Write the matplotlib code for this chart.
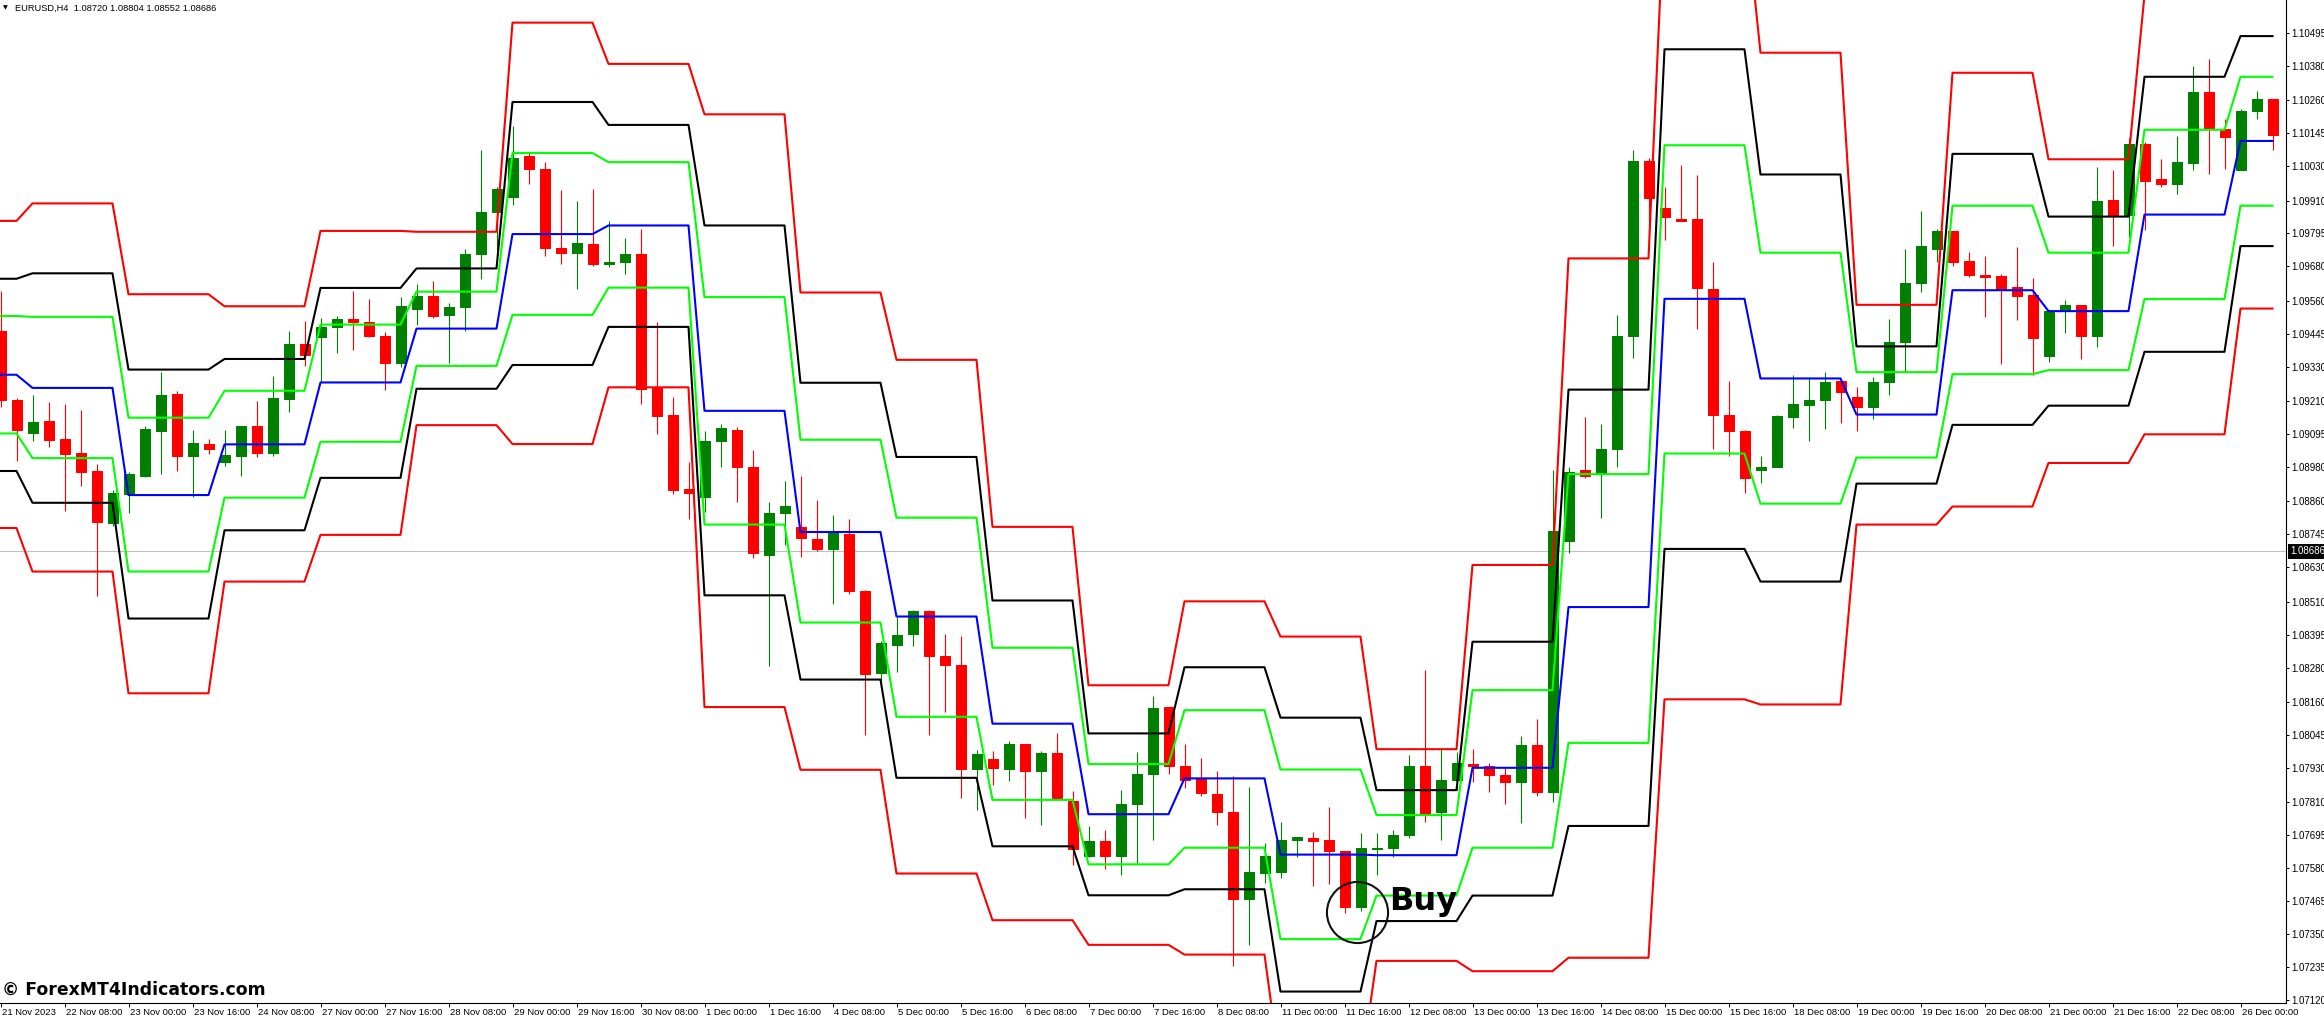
import numpy as np
import matplotlib
matplotlib.use("Agg")
import matplotlib.pyplot as plt
from matplotlib import transforms

# EURUSD H4 candles, first bar 21 Nov 16:00, last bar 26 Dec 08:00
opens = [1.09455, 1.09214, 1.09100, 1.09141, 1.09078, 1.09029, 1.08966, 1.08785, 1.08885, 1.08949,
         1.09107, 1.09235, 1.09020, 1.09060, 1.08999, 1.09020, 1.09123, 1.09030, 1.09219, 1.09409,
         1.09432, 1.09468, 1.09497, 1.09485, 1.09437, 1.09343, 1.09533, 1.09577, 1.09509, 1.09537,
         1.09724, 1.09870, 1.09924, 1.10065, 1.10020, 1.09745, 1.09726, 1.09758, 1.09688, 1.09694,
         1.09722, 1.09256, 1.09162, 1.08902, 1.08874, 1.09071, 1.09109, 1.08981, 1.08673, 1.08818,
         1.08769, 1.08729, 1.08693, 1.08747, 1.08548, 1.08261, 1.08357, 1.08397, 1.08478, 1.08321,
         1.08288, 1.07925, 1.07959, 1.07925, 1.08013, 1.07919, 1.07983, 1.07815, 1.07623, 1.07674,
         1.07623, 1.07804, 1.07909, 1.08141, 1.07937, 1.07890, 1.07837, 1.07774, 1.07473, 1.07562,
         1.07568, 1.07678, 1.07685, 1.07678, 1.07640, 1.07444, 1.07647, 1.07651, 1.07696, 1.07937,
         1.07774, 1.07886, 1.07942, 1.07937, 1.07904, 1.07882, 1.08009, 1.07846, 1.08723, 1.08969,
         1.08958, 1.09043, 1.09438, 1.10047, 1.09884, 1.09846, 1.09846, 1.09601, 1.09163, 1.09107,
         1.08970, 1.08979, 1.09153, 1.09198, 1.09213, 1.09281, 1.09223, 1.09188, 1.09278, 1.09415,
         1.09621, 1.09742, 1.09803, 1.09698, 1.09649, 1.09647, 1.09608, 1.09582, 1.09368, 1.09524,
         1.09547, 1.09438, 1.09912, 1.09859, 1.10107, 1.09984, 1.09966, 1.10042, 1.10288, 1.10159,
         1.10015, 1.10221, 1.10264]
highs = [1.09593, 1.09221, 1.09231, 1.09208, 1.09200, 1.09179, 1.08991, 1.08900, 1.08964, 1.09123,
         1.09310, 1.09246, 1.09109, 1.09077, 1.09109, 1.09123, 1.09212, 1.09297, 1.09455, 1.09489,
         1.09501, 1.09508, 1.09593, 1.09565, 1.09451, 1.09572, 1.09620, 1.09629, 1.09553, 1.09740,
         1.10086, 1.09956, 1.10169, 1.10081, 1.10046, 1.09948, 1.09910, 1.09949, 1.09839, 1.09779,
         1.09809, 1.09487, 1.09226, 1.08998, 1.09105, 1.09131, 1.09119, 1.09039, 1.08859, 1.08930,
         1.08950, 1.08864, 1.08814, 1.08797, 1.08552, 1.08371, 1.08456, 1.08482, 1.08482, 1.08397,
         1.08391, 1.07993, 1.07989, 1.08024, 1.08013, 1.07990, 1.08050, 1.07849, 1.07728, 1.07714,
         1.07853, 1.07986, 1.08181, 1.08143, 1.08013, 1.07964, 1.07919, 1.07902, 1.07863, 1.07667,
         1.07741, 1.07689, 1.07707, 1.07792, 1.07640, 1.07702, 1.07702, 1.07712, 1.07975, 1.08272,
         1.07994, 1.07986, 1.07997, 1.07946, 1.07930, 1.08042, 1.08099, 1.08969, 1.08980, 1.09154,
         1.09130, 1.09511, 1.10086, 1.10059, 1.09958, 1.10034, 1.09999, 1.09695, 1.09281, 1.09109,
         1.09018, 1.09162, 1.09301, 1.09294, 1.09312, 1.09281, 1.09259, 1.09294, 1.09496, 1.09741,
         1.09873, 1.09811, 1.09803, 1.09730, 1.09717, 1.09652, 1.09748, 1.09641, 1.09527, 1.09562,
         1.09547, 1.10026, 1.10015, 1.10127, 1.10114, 1.10054, 1.10135, 1.10380, 1.10403, 1.10193,
         1.10231, 1.10291, 1.10264]
lows = [1.09191, 1.09001, 1.09069, 1.09051, 1.08828, 1.08915, 1.08528, 1.08774, 1.08819, 1.08945,
        1.08955, 1.08967, 1.08874, 1.09026, 1.08985, 1.08950, 1.09016, 1.09020, 1.09173, 1.09333,
        1.09277, 1.09379, 1.09388, 1.09433, 1.09250, 1.09328, 1.09476, 1.09499, 1.09344, 1.09456,
        1.09637, 1.09737, 1.09894, 1.09966, 1.09718, 1.09689, 1.09600, 1.09683, 1.09678, 1.09654,
        1.09201, 1.09095, 1.08884, 1.08797, 1.08824, 1.08981, 1.08858, 1.08663, 1.08285, 1.08707,
        1.08667, 1.08687, 1.08502, 1.08536, 1.08043, 1.08210, 1.08265, 1.08354, 1.08045, 1.08126,
        1.07823, 1.07784, 1.07869, 1.07885, 1.07754, 1.07732, 1.07818, 1.07591, 1.07617, 1.07577,
        1.07557, 1.07597, 1.07678, 1.07909, 1.07859, 1.07830, 1.07730, 1.07239, 1.07310, 1.07529,
        1.07547, 1.07619, 1.07518, 1.07524, 1.07422, 1.07429, 1.07556, 1.07619, 1.07685, 1.07741,
        1.07678, 1.07853, 1.07882, 1.07846, 1.07803, 1.07736, 1.07830, 1.07810, 1.08679, 1.08940,
        1.08802, 1.08980, 1.09360, 1.09789, 1.09773, 1.09840, 1.09460, 1.09043, 1.09020, 1.08888,
        1.08923, 1.08979, 1.09117, 1.09071, 1.09111, 1.09133, 1.09107, 1.09148, 1.09231, 1.09312,
        1.09590, 1.09694, 1.09680, 1.09644, 1.09504, 1.09340, 1.09493, 1.09301, 1.09348, 1.09449,
        1.09356, 1.09399, 1.09753, 1.09784, 1.09808, 1.09956, 1.09932, 1.10015, 1.10002, 1.10019,
        1.10015, 1.10193, 1.10088]
closes = [1.09214, 1.09109, 1.09136, 1.09074, 1.09026, 1.08964, 1.08789, 1.08889, 1.08956, 1.09111,
          1.09231, 1.09017, 1.09063, 1.09044, 1.09022, 1.09123, 1.09030, 1.09222, 1.09409, 1.09372,
          1.09468, 1.09497, 1.09485, 1.09437, 1.09344, 1.09542, 1.09577, 1.09508, 1.09537, 1.09724,
          1.09870, 1.09950, 1.10057, 1.10020, 1.09745, 1.09726, 1.09761, 1.09688, 1.09694, 1.09722,
          1.09252, 1.09159, 1.08900, 1.08888, 1.09071, 1.09115, 1.08981, 1.08679, 1.08820, 1.08844,
          1.08733, 1.08693, 1.08753, 1.08546, 1.08257, 1.08367, 1.08395, 1.08478, 1.08321, 1.08288,
          1.07925, 1.07979, 1.07929, 1.08013, 1.07919, 1.07983, 1.07823, 1.07648, 1.07674, 1.07623,
          1.07804, 1.07909, 1.08140, 1.07935, 1.07886, 1.07841, 1.07774, 1.07473, 1.07567, 1.07623,
          1.07678, 1.07689, 1.07674, 1.07640, 1.07444, 1.07651, 1.07651, 1.07696, 1.07937, 1.07770,
          1.07886, 1.07948, 1.07937, 1.07904, 1.07882, 1.08009, 1.07846, 1.08757, 1.08964, 1.08947,
          1.09043, 1.09438, 1.10047, 1.09918, 1.09851, 1.09840, 1.09605, 1.09163, 1.09107, 1.08940,
          1.08979, 1.09158, 1.09200, 1.09215, 1.09275, 1.09242, 1.09188, 1.09278, 1.09415, 1.09621,
          1.09750, 1.09805, 1.09696, 1.09649, 1.09644, 1.09600, 1.09577, 1.09429, 1.09524, 1.09547,
          1.09438, 1.09909, 1.09859, 1.10107, 1.09979, 1.09966, 1.10045, 1.10288, 1.10159, 1.10132,
          1.10224, 1.10264, 1.10140]

# indicator levels, one value per trading day (21 Nov .. 26 Dec)
bars_per_day = [2] + [6] * 23 + [3]
r_up = [1.09839, 1.09900, 1.09583, 1.09541, 1.09804, 1.09801, 1.10531, 1.10387, 1.10211, 1.09589,
        1.09354, 1.08771, 1.08218, 1.08511, 1.08388, 1.07995, 1.08638, 1.09708, 1.10965, 1.10426,
        1.09546, 1.10356, 1.10054, 1.10627, 1.10702]
k_up = [1.09637, 1.09656, 1.09320, 1.09357, 1.09605, 1.09673, 1.10254, 1.10174, 1.09823, 1.09274,
        1.09015, 1.08514, 1.08050, 1.08281, 1.08105, 1.07852, 1.08370, 1.09250, 1.10438, 1.10001,
        1.09401, 1.10073, 1.09854, 1.10342, 1.10484]
g_up = [1.09507, 1.09504, 1.09152, 1.09246, 1.09477, 1.09592, 1.10076, 1.10044, 1.09573, 1.09075,
        1.08803, 1.08349, 1.07943, 1.08131, 1.07924, 1.07765, 1.08201, 1.08955, 1.10103, 1.09728,
        1.09311, 1.09892, 1.09728, 1.10157, 1.10342]
pivot = [1.09302, 1.09256, 1.08882, 1.09059, 1.09275, 1.09463, 1.09793, 1.09823, 1.09176, 1.08753,
         1.08458, 1.08084, 1.07768, 1.07893, 1.07627, 1.07625, 1.07930, 1.08491, 1.09567, 1.09289,
         1.09163, 1.09597, 1.09524, 1.09861, 1.10118]
g_dn = [1.09097, 1.09011, 1.08615, 1.08873, 1.09068, 1.09333, 1.09511, 1.09606, 1.08779, 1.08437,
        1.08108, 1.07818, 1.07593, 1.07651, 1.07332, 1.07484, 1.07651, 1.08017, 1.09027, 1.08852,
        1.09013, 1.09304, 1.09318, 1.09566, 1.09892]
k_dn = [1.08966, 1.08855, 1.08451, 1.08759, 1.08942, 1.09253, 1.09336, 1.09469, 1.08532, 1.08238,
        1.07895, 1.07656, 1.07485, 1.07506, 1.07149, 1.07395, 1.07484, 1.07727, 1.08694, 1.08580,
        1.08922, 1.09127, 1.09194, 1.09382, 1.09751]
r_dn = [1.08767, 1.08615, 1.08190, 1.08580, 1.08743, 1.09126, 1.09060, 1.09258, 1.08142, 1.07923,
        1.07561, 1.07398, 1.07312, 1.07278, 1.06865, 1.07256, 1.07220, 1.07267, 1.08169, 1.08151,
        1.08779, 1.08842, 1.08994, 1.09094, 1.09533]

x_labels = ["21 Nov 2023", "22 Nov 08:00", "23 Nov 00:00", "23 Nov 16:00", "24 Nov 08:00",
            "27 Nov 00:00", "27 Nov 16:00", "28 Nov 08:00", "29 Nov 00:00", "29 Nov 16:00",
            "30 Nov 08:00", "1 Dec 00:00", "1 Dec 16:00", "4 Dec 08:00", "5 Dec 00:00",
            "5 Dec 16:00", "6 Dec 08:00", "7 Dec 00:00", "7 Dec 16:00", "8 Dec 08:00",
            "11 Dec 00:00", "11 Dec 16:00", "12 Dec 08:00", "13 Dec 00:00", "13 Dec 16:00",
            "14 Dec 08:00", "15 Dec 00:00", "15 Dec 16:00", "18 Dec 08:00", "19 Dec 00:00",
            "19 Dec 16:00", "20 Dec 08:00", "21 Dec 00:00", "21 Dec 16:00", "22 Dec 08:00",
            "26 Dec 00:00"]
y_labels = ["1.10495", "1.10380", "1.10260", "1.10145", "1.10030", "1.09910", "1.09795", "1.09680",
            "1.09560", "1.09445", "1.09330", "1.09210", "1.09095", "1.08980", "1.08860", "1.08745",
            "1.08630", "1.08510", "1.08395", "1.08280", "1.08160", "1.08045", "1.07930", "1.07810",
            "1.07695", "1.07580", "1.07465", "1.07350", "1.07235", "1.07120"]

bid = 1.08686
header = "EURUSD,H4  1.08720 1.08804 1.08552 1.08686"
buy_bar, buy_price = 84.8, 1.07427

plt.rcParams['font.family'] = ['Liberation Sans', 'DejaVu Sans']

W, H = 2324, 1015
fig = plt.figure(figsize=(W / 100, H / 100), dpi=100)
ax = fig.add_axes([0, 12 / H, 2286 / W, 1003 / H])

n = len(opens)
x = np.arange(n)
o = np.array(opens)
c = np.array(closes)
colors = np.where(c >= o, '#008000', '#ff0000')

ax.axhline(bid, color='#c0c0c0', lw=0.8, zorder=1)
ax.vlines(x, lows, highs, colors=colors, lw=0.8, zorder=2)
ax.bar(x, np.abs(c - o), bottom=np.minimum(o, c), width=10 / 16, color=colors,
       edgecolor=colors, lw=0.72, zorder=3)

bands = [(r_up, '#ff0000'), (k_up, 'black'), (g_up, '#00ff00'), (pivot, '#0000ff'),
         (g_dn, '#00ff00'), (k_dn, 'black'), (r_dn, '#ff0000')]
for vals, col in bands:
    ax.plot(x, np.repeat(vals, bars_per_day), color=col, lw=1.5, zorder=4)

ax.set_xlim(-0.5 / 16, 2285.5 / 16)
ax.set_ylim(1.07109, 1.10610)

for s in ['left', 'top']:
    ax.spines[s].set_visible(False)
for s in ['bottom', 'right']:
    ax.spines[s].set_linewidth(0.8)

ax.set_xticks(np.arange(len(x_labels)) * 4)
ax.set_xticklabels(x_labels, ha='left')
ax.tick_params(axis='x', direction='out', length=3, width=0.72, pad=0.5, labelsize=6.8)
shift = transforms.ScaledTranslation(2 / 100, 0, fig.dpi_scale_trans)
for lab in ax.get_xticklabels():
    lab.set_transform(lab.get_transform() + shift)

ax.set_yticks([float(v) for v in y_labels])
ax.set_yticklabels(y_labels)
ax.tick_params(axis='y', left=False, labelleft=False, right=True, labelright=True,
               direction='out', length=2.2, width=0.72, pad=1.5, labelsize=7)

# current price tag on the scale
ax.annotate(f"{bid:.5f}", (1, bid), xycoords=('axes fraction', 'data'), xytext=(3.3, 0),
            textcoords='offset points', color='white', fontsize=7, va='center', ha='left',
            bbox=dict(boxstyle='square,pad=0.25', fc='black', ec='none'), annotation_clip=False)

# buy signal
ax.plot(buy_bar, buy_price, marker='o', ms=44, mfc='none', mec='#111111', mew=1.5, zorder=6)
ax.annotate("Buy", (buy_bar, buy_price), xytext=(23, 1.4), textcoords='offset points',
            fontsize=23, fontweight='bold', family='DejaVu Sans', va='baseline', ha='left',
            zorder=7)

fig.text(3 / W, 1 - 8 / H, "\u25bc", fontsize=4.5, family='DejaVu Sans', va='center', ha='left')
fig.text(15 / W, 1 - 8 / H, header, fontsize=6.7, va='center', ha='left')
fig.text(2 / W, 1 - 990 / H, "\u00a9 ForexMT4Indicators.com", fontsize=12.4, fontweight='bold',
         family='DejaVu Sans', va='center', ha='left')

fig.savefig("out.png", dpi=100)
